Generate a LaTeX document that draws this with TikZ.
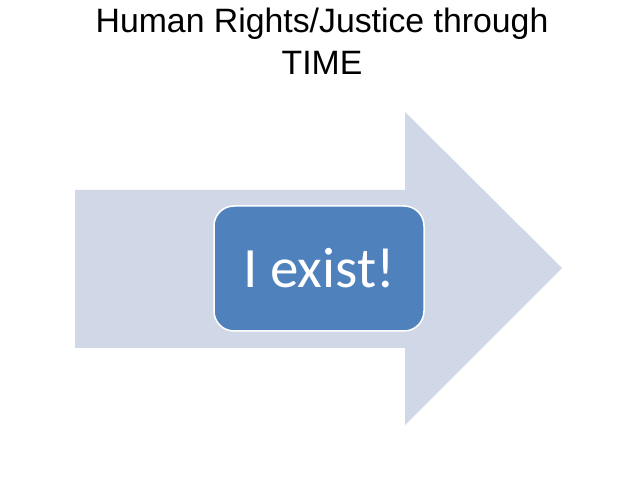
\documentclass[tikz,border=0pt]{standalone}
\usepackage{fontspec}
\setmainfont{Liberation Sans}
\newfontfamily\calib{Carlito}
\definecolor{arrowfill}{HTML}{D0D8E8}
\definecolor{boxfill}{HTML}{4F81BD}
\begin{document}
\begin{tikzpicture}[x=1pt,y=-1pt,
  titletext/.style={font=\fontsize{33.8}{42}\selectfont, align=center, text=black},
  bigarrow/.style={fill=arrowfill, draw=none},
  stagebox/.style={fill=boxfill, draw=white, line width=1.5pt, rounded corners=20pt,
    minimum width=210pt, minimum height=125pt, text=white,
    font=\calib\fontsize{57}{64}\selectfont}]
\useasboundingbox (0,0) rectangle (638,478);
\fill[white] (0,0) rectangle (638,478);
\path[bigarrow] (75,190) -- (405,190) -- (405,112) -- (562,268) -- (405,425) -- (405,348) -- (75,348) -- cycle;
\node[stagebox] (box) at (319,268.5) {I exist!};
\node[titletext, anchor=base] (t1) at (322,33) {Human Rights/Justice through};
\node[titletext, anchor=base] (t2) at (322,75) {TIME};
\end{tikzpicture}
\end{document}
